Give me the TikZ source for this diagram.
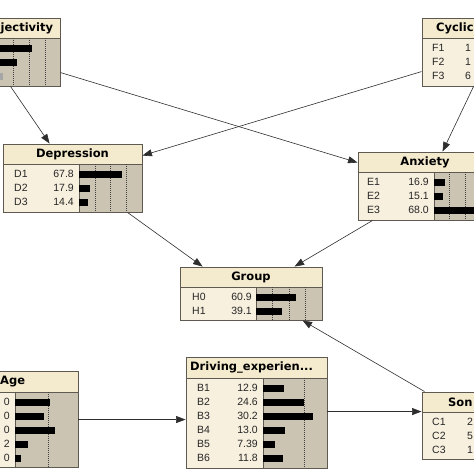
\documentclass[tikz,border=0pt]{standalone}
\usepackage{fontspec}
\setmainfont{Liberation Sans}
\newfontfamily\titlefont{DejaVu Sans}
\usetikzlibrary{arrows.meta,fit}
\definecolor{hdr}{HTML}{F4EACD}
\definecolor{lblbg}{HTML}{F7F0DE}
\definecolor{barbg}{HTML}{CCC4B2}
\definecolor{edge}{HTML}{5E5A52}
\definecolor{wire}{HTML}{2E2E2E}
\tikzset{
 boxframe/.style={draw=edge, line width=0.9pt, inner sep=0pt},
 sepline/.style={draw=edge, line width=0.9pt},
 grid25/.style={draw=black!75, line width=0.5pt, dash pattern=on 1pt off 1pt},
 belief/.style={fill=black},
 faintbar/.style={fill=black!35},
 rowtxt/.style={font=\fontsize{10.5}{11}\selectfont, inner sep=0pt, text=black!85},
 ttl/.style={font=\titlefont\bfseries\fontsize{11.5}{12}\selectfont, inner sep=0pt},
 conn/.style={draw=wire, line width=0.6pt, -{Triangle[length=9.5pt,width=7pt]}},
}
% name, x1, y1, x2, y2, header bottom, bar start
\newcommand\nbox[7]{%
 \fill[hdr] (#2,#3) rectangle (#4,#6);
 \fill[lblbg] (#2,#6) rectangle (#7,#5);
 \fill[barbg] (#7,#6) rectangle (#4,#5);
 \node[boxframe, fit={(#2,#3) (#4,#5)}] (#1) {};
 \draw[sepline] (#2,#6) -- (#4,#6);
 \draw[sepline] (#7,#6) -- (#7,#5);
}
% y, bar start, bar end
\newcommand\bbar[3]{\fill[belief] (#2,#1-3.5) rectangle (#3,#1+3.5);}
\begin{document}
\begin{tikzpicture}[x=1pt,y=-1pt]
\useasboundingbox (0,0) rectangle (474,474);
\begin{scope}
\clip (0,0) rectangle (474,474);

% ---------- Objectivity (cut at left) ----------
\nbox{obj}{-80}{18}{60}{86}{38}{-3.5}
\foreach \g in {12.8,29.1,45.4} \draw[grid25] (\g,38) -- (\g,86);
\bbar{48}{-3.5}{32}
\bbar{62}{-3.5}{17}
\fill[faintbar] (-3.5,72.5) rectangle (3,79.5);
\node[ttl, anchor=west] at (0.5,28) {jectivity};

% ---------- Cyclicity (cut at right) ----------
\nbox{cyc}{422}{18}{560}{86}{38}{500}
\node[ttl, anchor=west] at (436,28) {Cyclic};
\node[rowtxt, anchor=west] at (432,48) {F1};
\node[rowtxt, anchor=west] at (432,62) {F2};
\node[rowtxt, anchor=west] at (432,76) {F3};
\node[rowtxt, anchor=west] at (465,48) {1};
\node[rowtxt, anchor=west] at (465,62) {1};
\node[rowtxt, anchor=west] at (465,76) {6};

% ---------- Depression ----------
\nbox{dep}{3}{144}{142}{212}{164}{79}
\foreach \g in {94.75,110.5,126.25} \draw[grid25] (\g,164) -- (\g,212);
\bbar{174}{79}{121.7}
\bbar{188}{79}{90.3}
\bbar{202}{79}{88.1}
\node[ttl] at (72.5,154) {Depression};
\node[rowtxt, anchor=west] at (14,174) {D1};
\node[rowtxt, anchor=west] at (14,188) {D2};
\node[rowtxt, anchor=west] at (14,202) {D3};
\node[rowtxt, anchor=east] at (74,174) {67.8};
\node[rowtxt, anchor=east] at (74,188) {17.9};
\node[rowtxt, anchor=east] at (74,202) {14.4};

% ---------- Anxiety ----------
\nbox{anx}{358}{152}{492}{220}{172}{434}
\foreach \g in {449.5,465} \draw[grid25] (\g,172) -- (\g,220);
\bbar{182}{434}{444.5}
\bbar{196}{434}{443.4}
\bbar{210}{434}{476}
\node[ttl] at (425,162) {Anxiety};
\node[rowtxt, anchor=west] at (367,182) {E1};
\node[rowtxt, anchor=west] at (367,196) {E2};
\node[rowtxt, anchor=west] at (367,210) {E3};
\node[rowtxt, anchor=east] at (429,182) {16.9};
\node[rowtxt, anchor=east] at (429,196) {15.1};
\node[rowtxt, anchor=east] at (429,210) {68.0};

% ---------- Group ----------
\nbox{grp}{180}{267}{322}{320}{287}{256}
\foreach \g in {272.5,289,305.5} \draw[grid25] (\g,287) -- (\g,320);
\bbar{297}{256}{296.2}
\bbar{311}{256}{281.8}
\node[ttl] at (251,277) {Group};
\node[rowtxt, anchor=west] at (192,297) {H0};
\node[rowtxt, anchor=west] at (192,311) {H1};
\node[rowtxt, anchor=east] at (252,297) {60.9};
\node[rowtxt, anchor=east] at (252,311) {39.1};

% ---------- Age (cut at left) ----------
\nbox{age}{-70}{371}{78}{467}{392}{15}
\draw[grid25] (48,392) -- (48,467);
\bbar{402}{15}{50}
\bbar{416}{15}{44}
\bbar{430}{15}{55}
\bbar{444}{15}{28}
\bbar{458}{15}{21}
\node[ttl, anchor=west] at (0,381.5) {Age};
\node[rowtxt, anchor=east] at (10,402) {0};
\node[rowtxt, anchor=east] at (10,416) {0};
\node[rowtxt, anchor=east] at (10,430) {0};
\node[rowtxt, anchor=east] at (10,444) {2};
\node[rowtxt, anchor=east] at (10,458) {0};

% ---------- Driving_experience ----------
\nbox{drv}{186}{357}{327}{468}{378}{263}
\draw[grid25] (304.5,378) -- (304.5,468);
\bbar{388}{263}{284.4}
\bbar{402}{263}{303.8}
\bbar{416}{263}{313.1}
\bbar{430}{263}{284.6}
\bbar{444}{263}{275.3}
\bbar{458}{263}{282.6}
\node[ttl, anchor=west] at (190,367.5) {Driving\_experien...};
\node[rowtxt, anchor=west] at (197,388) {B1};
\node[rowtxt, anchor=west] at (197,402) {B2};
\node[rowtxt, anchor=west] at (197,416) {B3};
\node[rowtxt, anchor=west] at (197,430) {B4};
\node[rowtxt, anchor=west] at (197,444) {B5};
\node[rowtxt, anchor=west] at (197,458) {B6};
\node[rowtxt, anchor=east] at (258,388) {12.9};
\node[rowtxt, anchor=east] at (258,402) {24.6};
\node[rowtxt, anchor=east] at (258,416) {30.2};
\node[rowtxt, anchor=east] at (258,430) {13.0};
\node[rowtxt, anchor=east] at (258,444) {7.39};
\node[rowtxt, anchor=east] at (258,458) {11.8};

% ---------- Son... (cut at right) ----------
\nbox{son}{422}{392}{560}{459}{412}{500}
\node[ttl, anchor=west] at (448,402) {Son};
\node[rowtxt, anchor=west] at (432,422) {C1};
\node[rowtxt, anchor=west] at (432,436) {C2};
\node[rowtxt, anchor=west] at (432,450) {C3};
\node[rowtxt, anchor=west] at (467,422) {2};
\node[rowtxt, anchor=west] at (467,436) {5};
\node[rowtxt, anchor=west] at (467,450) {1};

% ---------- connectors ----------
\draw[conn] ([xshift=91pt]obj.south west) -- ([xshift=47pt]dep.north west);
\draw[conn] ([yshift=-55pt]obj.north east) -- ([yshift=-11pt]anx.north west);
\draw[conn] ([yshift=-54pt]cyc.north west) -- ([yshift=-12pt]dep.north east);
\draw[conn] ([xshift=52pt]cyc.south west) -- ([xshift=85pt]anx.north west);
\draw[conn] ([xshift=125pt]dep.south west) -- ([xshift=23pt]grp.north west);
\draw[conn] ([xshift=15pt]anx.south west) -- ([xshift=115pt]grp.north west);
\draw[conn] ([xshift=3pt]son.north west) -- ([xshift=123pt]grp.south west);
\draw[conn] ([yshift=-49pt]age.north east) -- ([yshift=-63pt]drv.north west);
\draw[conn] ([yshift=-55pt]drv.north east) -- ([yshift=-20pt]son.north west);
\end{scope}
\end{tikzpicture}
\end{document}
